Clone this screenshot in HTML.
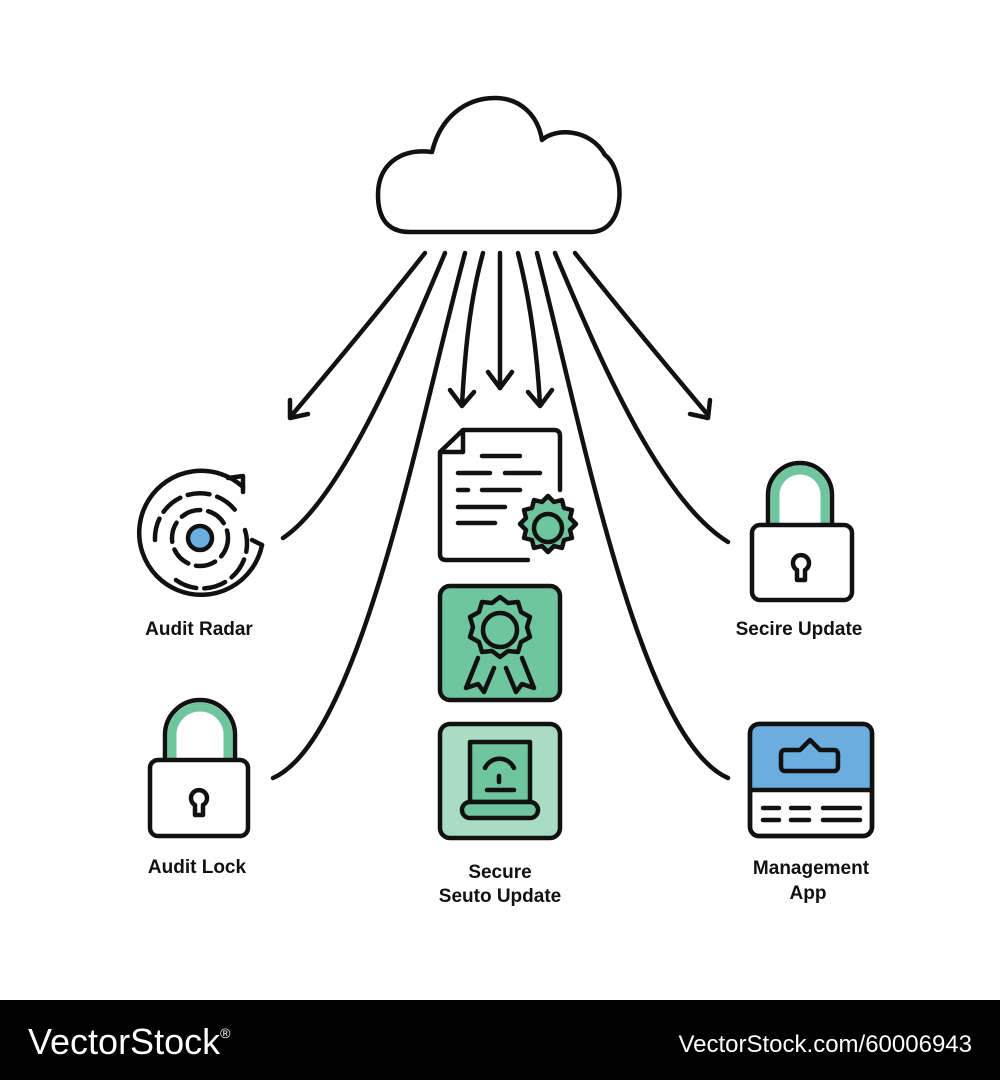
<!DOCTYPE html>
<html><head><style>
body{margin:0;width:1000px;height:1080px;background:#fff;overflow:hidden;font-family:"Liberation Sans",sans-serif}
</style></head><body>
<svg width="1000" height="1080" viewBox="0 0 1000 1080" xmlns="http://www.w3.org/2000/svg">
<g fill="none" stroke="#111" stroke-width="4.5" stroke-linecap="round" stroke-linejoin="round">
<!-- cloud -->
<path d="M410,232 C385,232 378,215 378,195 C378,165 400,148 432,152 C440,118 465,98 495,98 C520,98 538,115 542,140 C555,128 590,128 605,155 C625,170 628,232 590,232 Z" fill="#fff"/>
<!-- connectors -->
<path d="M425,253 C380,310 330,370 292,415"/>
<path d="M290,400 L290,418 L308,414"/>
<path d="M445,253 C400,360 340,500 283,538"/>
<path d="M465,253 C420,420 360,740 273,778"/>
<path d="M483,253 C470,300 465,350 462,405"/>
<path d="M450,390 L462,406 L474,392"/>
<path d="M500,253 L500,388"/>
<path d="M488,372 L500,388 L512,372"/>
<path d="M518,253 C530,300 537,350 540,405"/>
<path d="M528,392 L540,406 L552,390"/>
<path d="M537,253 C580,420 640,740 728,778"/>
<path d="M555,253 C600,360 660,500 728,542"/>
<path d="M575,253 C620,310 670,370 708,415"/>
<path d="M690,414 L708,418 L710,400"/>
<!-- radar -->
<path d="M243,487 A62,62 0 1 0 262,545" />
<path d="M228,478 L243,476 L243,492"/>
<path d="M262,545 L252,540"/>
<path d="M155,540 A45,45 0 0 1 235,510" stroke-dasharray="22 8"/>
<path d="M245,530 A45,45 0 0 1 170,575" stroke-dasharray="22 8"/>
<circle cx="200" cy="538" r="28" stroke-dasharray="20 8"/>
<circle cx="200" cy="538" r="12" fill="#6aaee0"/>
<!-- doc -->
<path d="M463,430 L554,430 Q560,430 560,436 L560,490 M528,560 L446,560 Q440,560 440,554 L440,452 L463,430 L463,452 L440,452"/>
<path d="M482,456 L520,456 M458,473 L490,473 M505,473 L540,473 M458,490 L468,490 M482,490 L520,490 M458,507 L505,507 M458,523 L495,523"/>
<path d="M548,496 l6,6 8,-2 2,8 8,2 -2,8 6,6 -6,6 2,8 -8,2 -2,8 -8,-2 -6,6 -6,-6 -8,2 -2,-8 -8,-2 2,-8 -6,-6 6,-6 -2,-8 8,-2 2,-8 8,2 z" fill="#6fc59e"/>
<circle cx="548" cy="528" r="14" fill="#6fc59e"/>
<!-- box2 -->
<rect x="440" y="586" width="120" height="114" rx="10" fill="#6fc59e"/>
<path d="M478,658 L466,688 L478,684 L484,692 L494,668 M522,658 L534,688 L522,684 L516,692 L506,668" fill="#6fc59e"/>
<path d="M500,597 l8,6 10,-1 3,10 9,5 -3,10 3,10 -9,5 -3,10 -10,-1 -8,6 -8,-6 -10,1 -3,-10 -9,-5 3,-10 -3,-10 9,-5 3,-10 10,1 z" fill="#6fc59e"/>
<circle cx="500" cy="630" r="17"/>
<!-- box3 -->
<rect x="440" y="724" width="120" height="114" rx="10" fill="#a9dcc3"/>
<rect x="470" y="742" width="60" height="60" fill="#6fc59e"/>
<rect x="462" y="802" width="76" height="16" rx="8" fill="#6fc59e"/>
<path d="M485,768 A16,16 0 0 1 514,768 M499,776 L499,782 M487,790 L514,790"/>
<!-- audit lock -->
<path d="M165,760 L165,735 A35,35 0 0 1 235,735 L235,760" stroke="#111" stroke-width="4.5"/>
<path d="M172,760 L172,735 A28,28 0 0 1 228,735 L228,760" stroke="#6fc59e" stroke-width="9"/>
<rect x="150" y="760" width="98" height="76" rx="8" fill="#fff"/>
<path d="M195,815 L195,805 A8,8 0 1 1 203,805 L203,815 Z"/>
<!-- secure update lock -->
<path d="M768,525 L768,495 A32,32 0 0 1 832,495 L832,525"/>
<path d="M775,525 L775,495 A25,25 0 0 1 825,495 L825,525" stroke="#6fc59e" stroke-width="9"/>
<rect x="752" y="525" width="100" height="75" rx="8" fill="#fff"/>
<path d="M797,580 L797,570 A8,8 0 1 1 805,570 L805,580 Z"/>
<!-- management -->
<rect x="750" y="724" width="122" height="112" rx="9" fill="#fff"/>
<path d="M752,790 L752,735 Q752,726 761,726 L861,726 Q870,726 870,735 L870,790 Z" fill="#6aaee0" stroke="none"/>
<rect x="750" y="724" width="122" height="112" rx="9"/>
<path d="M751,790 L871,790"/>
<path d="M785,750 L800,750 L810,740 L820,750 L834,750 Q838,750 838,755 L838,766 Q838,771 834,771 L785,771 Q781,771 781,766 L781,755 Q781,750 785,750Z"/>
<path d="M763,808 L779,808 M791,808 L809,808 M823,808 L860,808 M763,820 L779,820 M791,820 L809,820 M823,820 L860,820"/>
</g>
<g font-weight="bold" font-size="19" fill="#111" text-anchor="middle" font-family="Liberation Sans, sans-serif">
<text x="199" y="635">Audit Radar</text>
<text x="197" y="873">Audit Lock</text>
<text x="500" y="878">Secure</text>
<text x="500" y="902">Seuto Update</text>
<text x="799" y="635">Secire Update</text>
<text x="811" y="874">Management</text>
<text x="808" y="899">App</text>
</g>
<rect x="0" y="1000" width="1000" height="80" fill="#000"/>
<text x="28" y="1054" fill="#fff" font-size="36" font-family="Liberation Sans, sans-serif">VectorStock<tspan font-size="14" dy="-16">®</tspan></text>
<text x="972" y="1052" fill="#fff" font-size="24" text-anchor="end" font-family="Liberation Sans, sans-serif">VectorStock.com/60006943</text>
</svg>
</body></html>
